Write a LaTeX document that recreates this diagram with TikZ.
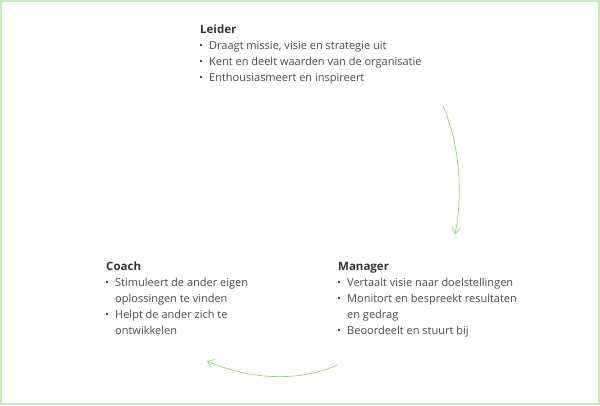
\documentclass[tikz,border=0pt]{standalone}
\usepackage{fontspec}
\setmainfont{Open Sans}
\usetikzlibrary{arrows.meta}
\definecolor{bodytxt}{HTML}{4A4A4A}
\definecolor{headtxt}{HTML}{333333}
\definecolor{arrowgreen}{HTML}{8FD47A}
\definecolor{framegreen}{HTML}{C8EBBA}
\newcommand{\bl}{\rule[2.8pt]{2pt}{2pt}}
\tikzset{
  block/.style={anchor=base west, inner sep=0pt, text=bodytxt, font=\fontsize{11}{16}\selectfont},
  cyclearrow/.style={draw=arrowgreen, line width=0.7pt, -{Straight Barb[length=6pt,width=9pt]}},
}
\begin{document}
\begin{tikzpicture}[x=1pt,y=-1pt]
\useasboundingbox (0,0) rectangle (600,405);
\draw[framegreen, line width=2pt] (1,1) rectangle (599,404);

\node[block] (leider) at (200,33) {\begin{tabular}[t]{@{}l@{\hspace{7pt}}l@{}}
\multicolumn{2}{@{}l}{\textcolor{headtxt}{\fontsize{11.5}{16}\selectfont\bfseries Leider}}\\
\bl & Draagt missie, visie en strategie uit\\
\bl & Kent en deelt waarden van de organisatie\\
\bl & Enthousiasmeert en inspireert
\end{tabular}};

\node[block] (manager) at (338,270) {\begin{tabular}[t]{@{}l@{\hspace{7pt}}l@{}}
\multicolumn{2}{@{}l}{\textcolor{headtxt}{\fontsize{11.5}{16}\selectfont\bfseries Manager}}\\
\bl & Vertaalt visie naar doelstellingen\\
\bl & Monitort en bespreekt resultaten\\
 & en gedrag\\
\bl & Beoordeelt en stuurt bij
\end{tabular}};

\node[block] (coach) at (106,270) {\begin{tabular}[t]{@{}l@{\hspace{7pt}}l@{}}
\multicolumn{2}{@{}l}{\textcolor{headtxt}{\fontsize{11.5}{16}\selectfont\bfseries Coach}}\\
\bl & Stimuleert de ander eigen\\
 & oplossingen te vinden\\
\bl & Helpt de ander zich te\\
 & ontwikkelen
\end{tabular}};

\coordinate (a1s) at (443,106);
\coordinate (a1e) at (455,234);
\coordinate (a2s) at (337,365);
\coordinate (a2e) at (207,361);
\draw[cyclearrow] (a1s) .. controls (458,140) and (464,190) .. (a1e);
\draw[cyclearrow] (a2s) .. controls (300,382) and (250,380) .. (a2e);
\end{tikzpicture}
\end{document}
